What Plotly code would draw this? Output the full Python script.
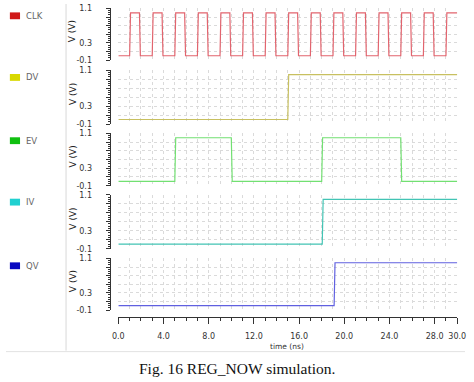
import plotly.graph_objects as go

W, H = 474, 382

# ---- data ----
signals = ["CLK", "DV", "EV", "IV", "QV"]
line_colors = ["#e2646e", "#c8c060", "#72e072", "#42c4b4", "#6060e0"]
legend_colors = ["#d01818", "#d8d800", "#10c010", "#20d0d0", "#0808c0"]

t_end = 30.0
low_v = 0.0
high_v = 1.0
ramp = 0.08

clk_rise = [1.0, 3.0, 5.0, 7.0, 9.0, 11.0, 13.0, 15.0, 17.0, 19.0, 21.0, 23.0, 25.0, 27.0, 29.0]
clk_fall = [1.87, 3.87, 5.87, 7.87, 9.87, 11.87, 13.87, 15.87, 17.87, 19.87, 21.87, 23.87, 25.87, 27.87]
dv_rise = [15.0]
dv_fall = []
ev_rise = [5.0, 18.0]
ev_fall = [10.0, 25.0]
iv_rise = [18.05]
iv_fall = []
qv_rise = [19.1]
qv_fall = []

edges = [(clk_rise, clk_fall), (dv_rise, dv_fall), (ev_rise, ev_fall),
         (iv_rise, iv_fall), (qv_rise, qv_fall)]

x_tick_vals = [0, 4, 8, 12, 16, 20, 24, 28, 30]
x_tick_labels = ["0.0", "4.0", "8.0", "12.0", "16.0", "20.0", "24.0", "28.0", "30.0"]
y_tick_vals = [-0.1, 0.1, 0.3, 0.5, 0.7, 0.9, 1.1]
y_tick_labels = ["-0.1", "", "0.3", "", "", "", "1.1"]
y_range = [-0.1, 1.1]


def waveform(rises, falls):
    ev = sorted([(t, 1) for t in rises] + [(t, 0) for t in falls])
    xs, ys = [0.0], [low_v]
    cur = low_v
    for t, up in ev:
        xs.append(t); ys.append(cur)
        cur = high_v if up else low_v
        xs.append(t + ramp); ys.append(cur)
    xs.append(t_end); ys.append(cur)
    return xs, ys


def px_x(p):
    return p / W


def px_y(p):
    return 1 - p / H


panel_px = [(4.6, 57.4), (67.7, 122.9), (132.5, 186.1), (195.4, 250.6), (260.6, 313.4)]
x_dom = [px_x(116), px_x(466)]

fig = go.Figure()
layout = dict(width=W, height=H, autosize=False,
              margin=dict(l=0, r=0, t=0, b=0, pad=0),
              paper_bgcolor="white", plot_bgcolor="white",
              showlegend=False, font=dict(family="DejaVu Sans", size=8, color="#333"))

shapes = []
annotations = []
font_tick = dict(family="DejaVu Sans", size=8, color="#333")
grid_c = "#dadada"

for i, name in enumerate(signals):
    k = "" if i == 0 else str(i + 1)
    xs, ys = waveform(*edges[i])
    fig.add_trace(go.Scatter(x=xs, y=ys, mode="lines",
                             line=dict(color=line_colors[i], width=1.2),
                             xaxis="x" + k, yaxis="y" + k, hoverinfo="skip"))
    top, bot = panel_px[i]
    last = (i == len(signals) - 1)
    xa = dict(domain=x_dom, range=[0, t_end], showline=False, zeroline=False,
              showgrid=True, gridcolor=grid_c, griddash="dot", gridwidth=1,
              tickvals=x_tick_vals, ticktext=x_tick_labels,
              minor=dict(dtick=1, tick0=0, showgrid=True, gridcolor=grid_c,
                         griddash="dot", ticks="outside" if last else "",
                         ticklen=3, tickcolor="#333"),
              fixedrange=True)
    if last:
        xa.update(anchor="free", position=px_y(321), showline=True, linecolor="#333",
                  ticks="outside", ticklen=6, tickcolor="#333", showticklabels=True,
                  tickfont=font_tick, ticklabelstandoff=5, ticklabeloverflow="allow",
                  matches="x")
    else:
        xa.update(anchor="y" + k, ticks="", showticklabels=False)
        if i > 0:
            xa["matches"] = "x"
    ya = dict(domain=[px_y(bot), px_y(top)], range=y_range, anchor="free",
              position=px_x(107), showline=True, linecolor="#333", zeroline=False,
              tickvals=y_tick_vals, ticktext=y_tick_labels, ticks="outside",
              ticklen=4, tickcolor="#333", tickfont=font_tick, ticklabelstandoff=12,
              ticklabeloverflow="allow",
              showgrid=True, gridcolor=grid_c, griddash="dot",
              minor=dict(dtick=0.05, tick0=-0.1, ticks="outside", ticklen=2,
                         tickcolor="#333", showgrid=False),
              fixedrange=True)
    layout["xaxis" + k] = xa
    layout["yaxis" + k] = ya

    # axis title
    annotations.append(dict(text="V (V)", textangle=-90, x=px_x(69), y=px_y((top + bot) / 2 - 3),
                            xref="paper", yref="paper", xanchor="center", yanchor="middle",
                            showarrow=False,
                            font=dict(family="DejaVu Sans", size=9, color="#222")))
    # legend square and label
    ly = top + 7.5
    shapes.append(dict(type="rect", xref="paper", yref="paper",
                       x0=px_x(4), x1=px_x(14.5), y0=px_y(ly - 3.5), y1=px_y(ly + 3.5),
                       fillcolor=legend_colors[i], line=dict(width=0)))
    annotations.append(dict(text=name, x=px_x(19), y=px_y(ly), xanchor="left", yanchor="middle",
                            xref="paper", yref="paper", showarrow=False,
                            font=dict(family="DejaVu Sans", size=8.5, color="#666")))

# divider lines
shapes.append(dict(type="line", xref="paper", yref="paper", x0=px_x(62), x1=px_x(62),
                   y0=px_y(0), y1=px_y(355), line=dict(color="#d8d8d8", width=1)))
shapes.append(dict(type="line", xref="paper", yref="paper", x0=0, x1=1,
                   y0=px_y(356), y1=px_y(356), line=dict(color="#e2e2e2", width=1)))

annotations.append(dict(text="time (ns)", x=px_x(290), y=px_y(351), xref="paper", yref="paper",
                        xanchor="center", yanchor="middle", showarrow=False,
                        font=dict(family="DejaVu Sans", size=7.5, color="#333")))
annotations.append(dict(text="Fig. 16 REG_NOW simulation.", x=px_x(239), y=px_y(373),
                        xref="paper", yref="paper", xanchor="center", yanchor="middle",
                        showarrow=False,
                        font=dict(family="Liberation Serif", size=15.5, color="#111")))

layout["shapes"] = shapes
layout["annotations"] = annotations
fig.update_layout(**layout)
fig.write_html("out.html", config={"displayModeBar": False},
               post_script="document.body.style.margin='0';document.body.style.padding='0';"
                           "document.body.style.overflow='hidden';")
